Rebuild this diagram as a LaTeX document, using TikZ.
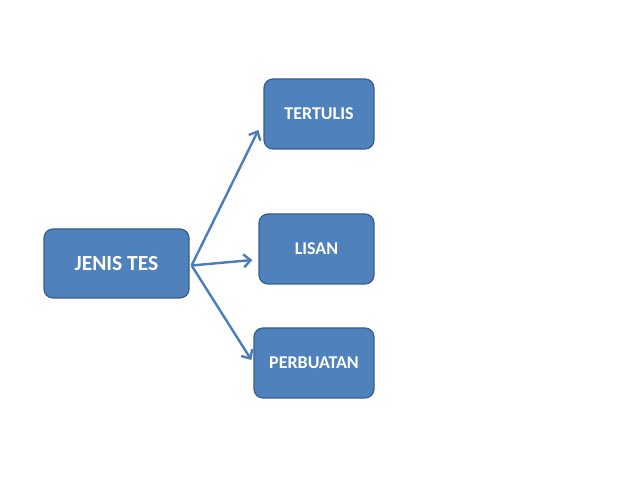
\documentclass[tikz,border=0pt]{standalone}
\usepackage{fontspec}
\setmainfont{Carlito}
\usetikzlibrary{calc}
\usetikzlibrary{arrows.meta}

\definecolor{boxfill}{HTML}{4F81BD}
\definecolor{boxline}{HTML}{385D8A}
\definecolor{arrline}{HTML}{4A7EBB}

\begin{document}
\begin{tikzpicture}[x=1pt,y=-1pt,
    box/.style={rectangle,rounded corners=9pt,draw=boxline,line width=1.2pt,fill=boxfill,
        text=white,font=\bfseries\fontsize{18}{21}\selectfont,inner sep=0pt},
    arr/.style={draw=arrline,line width=2.4pt,-{Straight Barb[length=7pt,width=13pt]}}]
            % Fix the page size
            \useasboundingbox (0,0) rectangle (638,478);

            % Draw the boxes
            \node[box,minimum width=145pt,minimum height=69pt,font=\bfseries\fontsize{21.5}{25}\selectfont] (jenis) at (116.5,263.5) {JENIS TES};
            \node[box,minimum width=110pt,minimum height=70pt] (tertulis) at (319,114) {TERTULIS};
            \node[box,minimum width=115pt,minimum height=70pt] (lisan) at (316.5,249) {LISAN};
            \node[box,minimum width=120pt,minimum height=70pt] (perbuatan) at (314,363) {PERBUATAN};

            % Draw the arrows
            \coordinate (split) at ($(jenis.east)+(2,2)$);
            \draw[arr] (split) -- ($(tertulis.west)+(-5,16)$);
            \draw[arr] (split) -- ($(lisan.west)+(-6,11)$);
            \draw[arr] (split) -- ($(perbuatan.west)+(-2,-3)$);
\end{tikzpicture}
\end{document}
